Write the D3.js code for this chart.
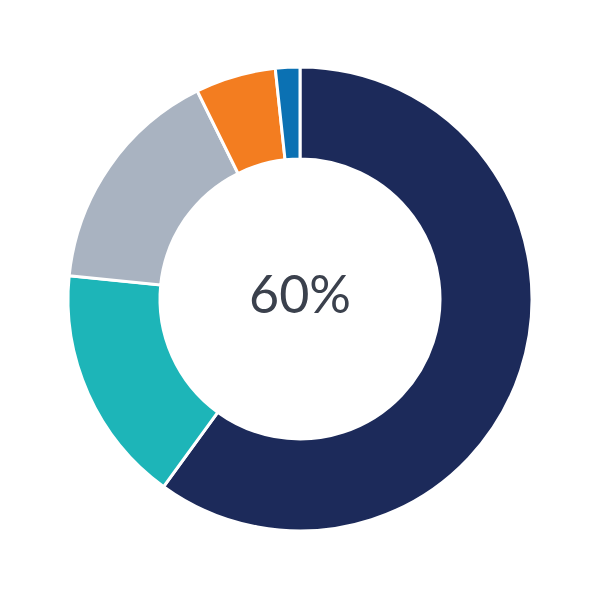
<!DOCTYPE html>
<html lang="en">
<head>
  <meta charset="UTF-8">
  <title>Donut</title>
  <style>
    body { margin: 0; background: #fff; }
  </style>
  <script src="https://cdn.jsdelivr.net/npm/d3@7"></script>
</head>
<body>
  <script>
    var labels = ["Navy", "Teal", "Gray", "Orange", "Blue"];
    var values = [60, 16.6, 16.1, 5.6, 1.7];
    var colors = ["#1c2a5a", "#1db5b8", "#a9b3c1", "#f37d20", "#0b71b3"];
    var centerLabel = "60%";

    var w = 600, h = 599;
    var cx = 300, cy = 299;
    var outer = 232, inner = 140;

    var svg = d3.select("body").append("svg")
      .attr("width", w)
      .attr("height", h);

    var g = svg.append("g")
      .attr("transform", "translate(" + cx + "," + cy + ")");

    var pie = d3.pie().sort(null).value(function(d) { return d; });
    var arc = d3.arc().innerRadius(inner).outerRadius(outer);

    g.selectAll("path")
      .data(pie(values))
      .enter()
      .append("path")
      .attr("d", arc)
      .attr("fill", function(d, i) { return colors[i]; })
      .attr("stroke", "#fff")
      .attr("stroke-width", 3)
      .append("title")
      .text(function(d, i) { return labels[i] + ": " + values[i]; });

    // center label, nudged up a touch to sit like the original
    g.append("text")
      .attr("text-anchor", "middle")
      .attr("dy", "0.27em")
      .style("font-family", "Lato, sans-serif")
      .style("font-size", "52px")
      .style("fill", "#3b414d")
      .text(centerLabel);
  </script>
</body>
</html>
